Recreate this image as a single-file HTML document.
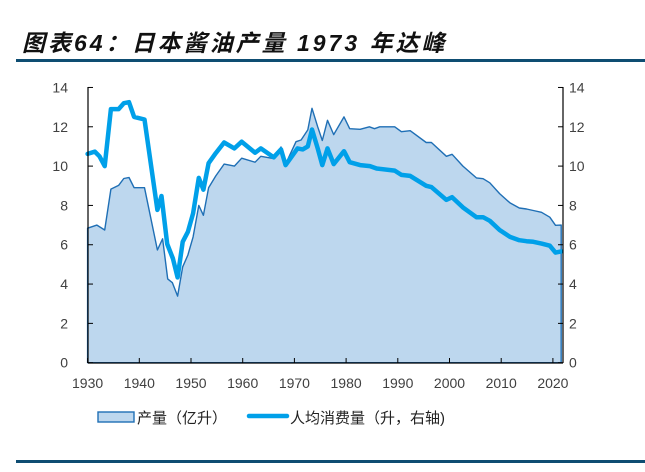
<!DOCTYPE html>
<html><head><meta charset="utf-8">
<style>
html,body{margin:0;padding:0;background:#fff;}
body{width:645px;height:472px;position:relative;overflow:hidden;font-family:"Liberation Sans","Noto Sans CJK SC",sans-serif;}
.title{position:absolute;left:22px;top:24px;font-size:23px;font-style:italic;font-weight:bold;color:#111;font-family:"Liberation Sans","Noto Sans CJK SC",sans-serif;letter-spacing:3px;}
.rule{position:absolute;left:16px;width:629px;background:#0e4d72;}
</style></head><body>
<div class="title">图表64：日本酱油产量 1973 年达峰</div>
<div class="rule" style="top:59px;height:3px"></div>
<div class="rule" style="top:460px;height:3px"></div>
<svg id="chart" width="645" height="472" style="position:absolute;left:0;top:0"></svg>
<script>
const prodYears=[1930,1931.8,1933.3,1934.5,1936,1937,1938,1939,1941,1943.5,1944.5,1945.5,1946.4,1947.4,1948.4,1949.4,1950.4,1951.5,1952.4,1953.4,1954.8,1956.4,1958.4,1959.8,1962.4,1963.5,1966,1967.4,1968.3,1970.3,1971.3,1972.6,1973.4,1974.5,1975.4,1976.4,1977.6,1979.6,1980.7,1982.7,1984.5,1985.5,1986.5,1989.4,1990.7,1992.4,1995.5,1996.5,1999.4,2000.5,2002.6,2005.2,2006.5,2007.8,2009.7,2011.7,2013.5,2014.9,2016.2,2017.8,2019.4,2020.5,2021.6];
const prodValues=[6.84,7.0,6.75,8.83,9.02,9.37,9.42,8.9,8.9,5.73,6.3,4.26,4.07,3.39,4.88,5.48,6.4,8.0,7.5,8.9,9.5,10.1,10.0,10.4,10.2,10.5,10.38,10.97,10.1,11.24,11.33,11.84,12.94,12.0,11.3,12.33,11.6,12.5,11.9,11.87,12.0,11.9,12.0,12.0,11.75,11.8,11.2,11.2,10.5,10.6,10.0,9.4,9.36,9.15,8.6,8.13,7.87,7.82,7.74,7.65,7.4,6.99,7.0];
const percapYears=[1930,1931.4,1932.3,1933.3,1934.5,1936,1937,1938,1939,1941,1943.5,1944.3,1945.4,1946.5,1947.4,1948.4,1949.4,1950.4,1951.5,1952.4,1953.4,1954.8,1956.4,1958.4,1959.8,1962.4,1963.5,1966,1967.4,1968.3,1970.6,1971.6,1972.6,1973.4,1974.5,1975.4,1976.4,1977.6,1979.6,1980.7,1982.7,1984.6,1985.9,1989.4,1990.7,1992.4,1995.5,1996.5,1999.4,2000.5,2002.6,2005.2,2006.5,2007.8,2009.7,2011.7,2013.5,2014.9,2016.2,2017.8,2019.4,2020.5,2021.6];
const percapValues=[10.62,10.74,10.5,10.0,12.9,12.9,13.2,13.25,12.5,12.37,7.77,8.48,6.04,5.3,4.34,6.15,6.66,7.6,9.4,8.8,10.15,10.66,11.2,10.9,11.24,10.68,10.9,10.45,10.85,10.05,10.9,10.85,11.0,11.86,10.9,10.05,10.9,10.1,10.76,10.2,10.05,10.0,9.88,9.77,9.55,9.5,9.0,8.93,8.28,8.42,7.9,7.4,7.4,7.22,6.75,6.4,6.23,6.18,6.15,6.06,5.95,5.6,5.66];
const yTicks=[0,2,4,6,8,10,12,14];
const xTicks=[1930,1940,1950,1960,1970,1980,1990,2000,2010,2020];

const svg=document.getElementById('chart');
const NS='http://www.w3.org/2000/svg';
const X=y=>87.6+(y-1930)*5.17;
const Y=v=>362.7-v*19.66;
function mk(t,a){const e=document.createElementNS(NS,t);for(const k in a)e.setAttribute(k,a[k]);svg.appendChild(e);return e;}

let d='M'+X(prodYears[0])+','+Y(0);
prodYears.forEach((yr,i)=>{d+=' L'+X(yr).toFixed(1)+','+Y(prodValues[i]).toFixed(1);});
d+=' L'+X(prodYears[prodYears.length-1])+','+Y(0)+' Z';
const area=mk('path',{d:d,fill:'#bdd7ee',stroke:'#1f6fb5','stroke-width':1.4,'stroke-linejoin':'round'});



let d2='';
percapYears.forEach((yr,i)=>{d2+=(i?' L':'M')+X(yr).toFixed(1)+','+Y(percapValues[i]).toFixed(1);});
const line=mk('path',{d:d2,fill:'none',stroke:'#00a0e9','stroke-width':4.5,'stroke-linejoin':'round','stroke-linecap':'round'});



const la=mk('line',{x1:88,y1:87,x2:88,y2:363,stroke:'#000','stroke-width':1.2});


const ra=mk('line',{x1:563,y1:87,x2:563,y2:363,stroke:'#000','stroke-width':1.2});


const ba=mk('line',{x1:88,y1:363,x2:563,y2:363,stroke:'#000','stroke-width':1.2});



yTicks.forEach(v=>{
  const y=Y(v);
  mk('line',{x1:88,y1:y,x2:93,y2:y,stroke:'#000','stroke-width':1});
  mk('line',{x1:558,y1:y,x2:563,y2:y,stroke:'#000','stroke-width':1});
  const t=mk('text',{x:68,y:y+5,'text-anchor':'end','font-size':14,fill:'#404040'});
  t.textContent=v;
  
  
  const t2=mk('text',{x:569,y:y+5,'text-anchor':'start','font-size':14,fill:'#404040'});
  t2.textContent=v;
  
  
});
xTicks.forEach(yr=>{
  const x=X(yr);
  mk('line',{x1:x,y1:358,x2:x,y2:363,stroke:'#000','stroke-width':1});
  const t=mk('text',{x:x,y:388,'text-anchor':'middle','font-size':14,fill:'#404040'});
  t.textContent=yr;
  
  
});

const lb=mk('rect',{x:98,y:412,width:36,height:10,fill:'#bdd7ee',stroke:'#1f6fb5','stroke-width':1.4});


const lt=mk('text',{x:137,y:423,'font-size':15,fill:'#222'});
lt.textContent='产量（亿升）';


const ll=mk('line',{x1:249,y1:416,x2:287,y2:416,stroke:'#00a0e9','stroke-width':4.5,'stroke-linecap':'round'});


const lt2=mk('text',{x:290,y:423,'font-size':15,fill:'#222'});
lt2.textContent='人均消费量（升，右轴)';


</script>
</body></html>
